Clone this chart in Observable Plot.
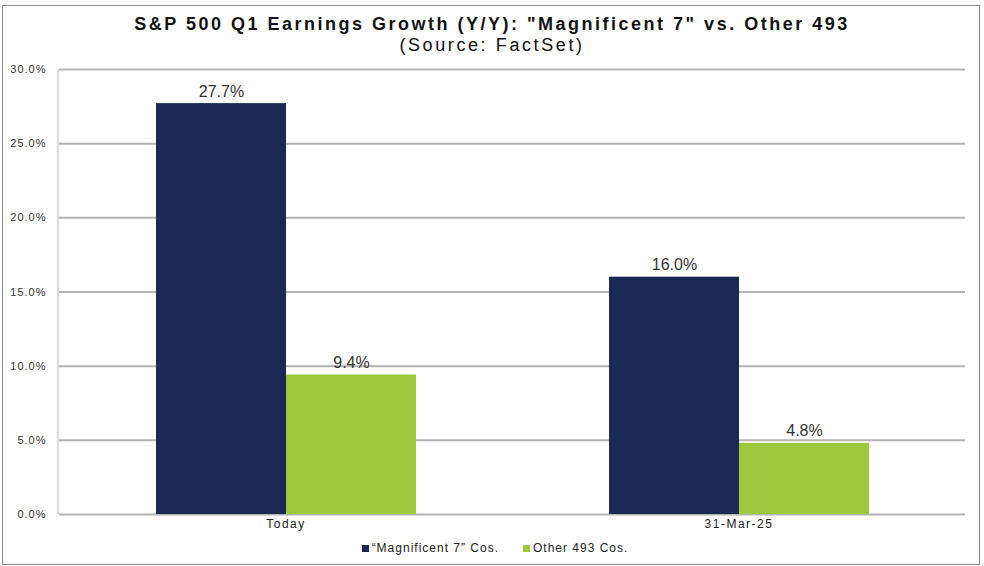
<!DOCTYPE html>
<html>
<head>
<meta charset="utf-8">
<script src="https://cdn.jsdelivr.net/npm/d3@7"></script>
<script src="https://cdn.jsdelivr.net/npm/@observablehq/plot@0.6"></script>
<style>
  html, body { margin: 0; padding: 0; background: #fff; }
  #page { position: relative; width: 984px; height: 566px; font-family: "Liberation Sans", Arial, sans-serif; overflow: hidden; }
  #frame { position: absolute; left: 2px; top: 5px; width: 978px; height: 560px; border: 1.5px solid #8a8a8a; box-sizing: border-box; pointer-events: none; }
  #title { height: 58px; text-align: center; color: #111; }
  #title .t1 { padding-top: 14px; font-size: 18px; font-weight: bold; line-height: 20px; letter-spacing: 2.5px; }
  #title .t2 { font-size: 18px; line-height: 22px; letter-spacing: 2.6px; }
  #chart svg { display: block; }
  #legend { display: flex; justify-content: center; align-items: center; gap: 24px; font-size: 12px; letter-spacing: 1px; color: #222; height: 22px; margin-top: -1px; padding-left: 6px; }
  #legend .item { display: flex; align-items: center; gap: 3px; }
  #legend .sw { width: 7px; height: 7px; display: inline-block; }
</style>
</head>
<body>
<div id="page">
  <div id="title">
    <div class="t1">S&amp;P 500 Q1 Earnings Growth (Y/Y): "Magnificent 7" vs. Other 493</div>
    <div class="t2">(Source: FactSet)</div>
  </div>
  <div id="chart"></div>
  <div id="legend"></div>
  <div id="frame"></div>
</div>
<script>
const categories = ["Today", "31-Mar-25"];
const seriesNames = ["\u201CMagnificent 7\u201D Cos.", "Other 493 Cos."];
const magnificent7 = [27.7, 16.0];
const other493 = [9.4, 4.8];
const yTicks = [0, 5, 10, 15, 20, 25, 30];
const colors = ["#1b2a54", "#9bc83c"];

const rows = [];
categories.forEach((c, i) => {
  rows.push({category: c, series: seriesNames[0], value: magnificent7[i]});
  rows.push({category: c, series: seriesNames[1], value: other493[i]});
});

const chart = Plot.plot({
  width: 984,
  height: 480,
  marginTop: 11,
  marginBottom: 24,
  marginLeft: 58,
  marginRight: 19,
  style: {fontFamily: "'Liberation Sans', Arial, sans-serif", background: "#fff"},
  fx: {domain: categories, padding: 0, label: null},
  x: {domain: seriesNames, paddingInner: 0, paddingOuter: 0.74, axis: null},
  y: {domain: [0, 30], ticks: yTicks, label: null},
  color: {domain: seriesNames, range: colors},
  marks: [
    Plot.ruleY(yTicks, {stroke: "#b3b3b3", strokeWidth: 2}),
    Plot.barY(rows, {fx: "category", x: "series", y: "value", fill: "series"}),
    Plot.text(rows, {fx: "category", x: "series", y: "value", text: d => d.value.toFixed(1) + "%", dy: -12, fontSize: 16, fill: "#333"}),
    Plot.axisY({ticks: yTicks, tickFormat: d => d.toFixed(1) + "%", tickSize: 0, tickPadding: 13, fontSize: 11, color: "#333", anchor: "left"}),
    Plot.axisFx({anchor: "bottom", tickSize: 0, tickPadding: 5, fontSize: 12, color: "#222", label: null})
  ]
});
document.getElementById("chart").appendChild(chart);

const svg = d3.select(chart);
// letter spacing on axis labels to match the reference's wide lettering
svg.selectAll("g[aria-label='y-axis tick label'] text").attr("letter-spacing", "1px");
svg.selectAll("g[aria-label='fx-axis tick label'] text").attr("letter-spacing", "1.5px");

// thin left axis line drawn through the y scale
const yScale = chart.scale("y");
svg.append("line")
  .attr("x1", 58).attr("x2", 58)
  .attr("y1", yScale.apply(30)).attr("y2", yScale.apply(0))
  .attr("stroke", "#b3b3b3").attr("stroke-width", 1);

const legend = document.getElementById("legend");
seriesNames.forEach((s, i) => {
  const item = document.createElement("span");
  item.className = "item";
  const sw = document.createElement("span");
  sw.className = "sw";
  sw.style.background = colors[i];
  const label = document.createElement("span");
  label.textContent = s;
  item.appendChild(sw);
  item.appendChild(label);
  legend.appendChild(item);
});
</script>
</body>
</html>
